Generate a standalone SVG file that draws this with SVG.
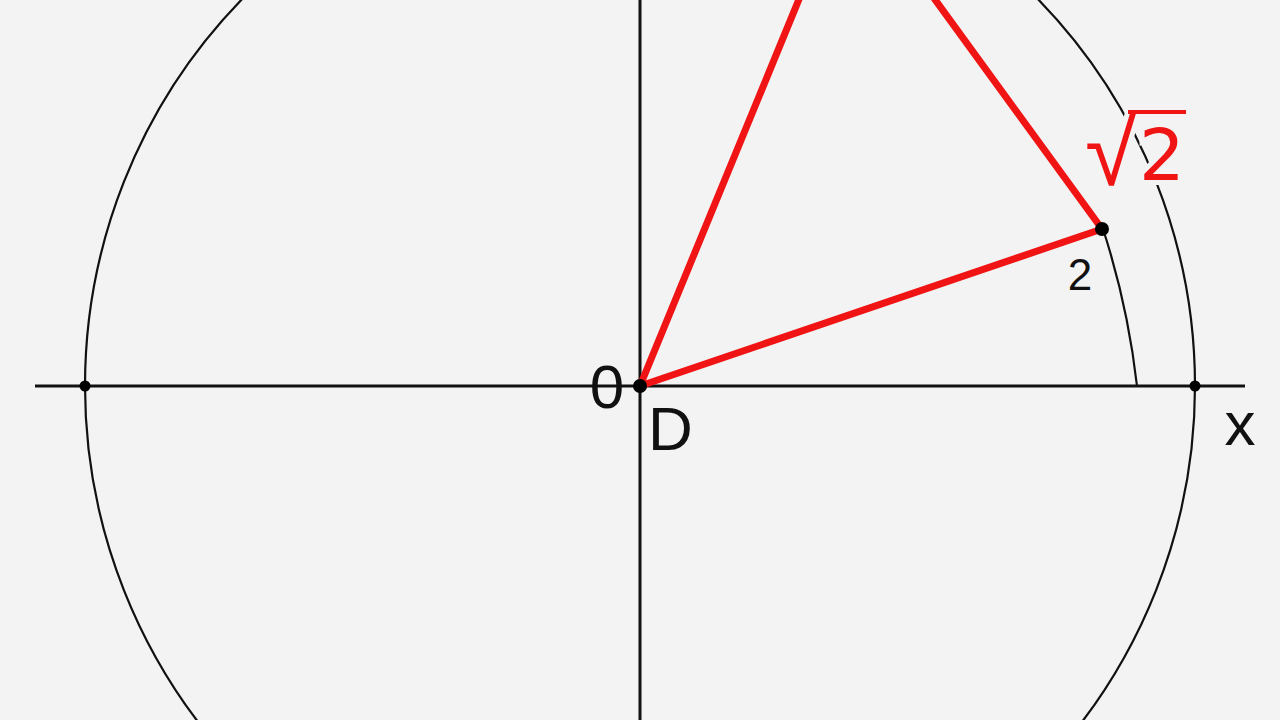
<svg xmlns="http://www.w3.org/2000/svg" width="1280" height="720" viewBox="0 0 1280 720">
  <style>
    .ax { stroke: #111; stroke-width: 3; fill: none; }
    .thin { stroke: #111; stroke-width: 2.2; fill: none; }
    .red { stroke: #f01414; stroke-width: 7; fill: none; stroke-linecap: round; stroke-linejoin: round; }
    .lbl { font-family: "Liberation Sans", Arial, sans-serif; fill: #111; }
    .rlbl { font-family: "DejaVu Sans", "Liberation Sans", sans-serif; fill: #f01414; stroke: #f3f3f3; stroke-width: 10; paint-order: stroke; }
    .dot { fill: #000; }
  </style>
  <rect x="0" y="0" width="1280" height="720" fill="#f3f3f3"/>
  <g id="connectors">
    <circle class="thin" cx="640" cy="386" r="555"/>
    <path class="thin" d="M1103,229 A800,800 0 0 1 1137,386"/>
    <line class="ax" x1="35" y1="386" x2="1245" y2="386"/>
    <line class="ax" x1="640" y1="0" x2="640" y2="720"/>
    <polyline class="red" points="640,386 848,-120 1102,229 640,386"/>
  </g>
  <g id="node-origin">
    <circle class="dot" cx="640" cy="386" r="7"/>
    <text class="lbl" x="607" y="408" font-size="62" text-anchor="middle">0</text>
    <text class="lbl" x="648" y="450" font-size="62">D</text>
  </g>
  <g id="node-left">
    <circle class="dot" cx="85" cy="386" r="5.5"/>
  </g>
  <g id="node-right">
    <circle class="dot" cx="1195" cy="386" r="5.5"/>
    <text class="lbl" x="1240" y="445" font-size="62" text-anchor="middle">x</text>
  </g>
  <g id="node-p">
    <circle class="dot" cx="1102" cy="229" r="7"/>
    <text class="lbl" x="1080" y="290" font-size="44" text-anchor="middle">2</text>
  </g>
  <g id="label-sqrt2">
    <text class="rlbl" x="1085" y="185" font-size="95" font-weight="200">√<tspan x="1162" y="180" font-size="72" font-weight="normal" text-anchor="middle">2</tspan></text>
    <line x1="1128" y1="112" x2="1186" y2="112" stroke="#f01414" stroke-width="4"/>
  </g>
</svg>
